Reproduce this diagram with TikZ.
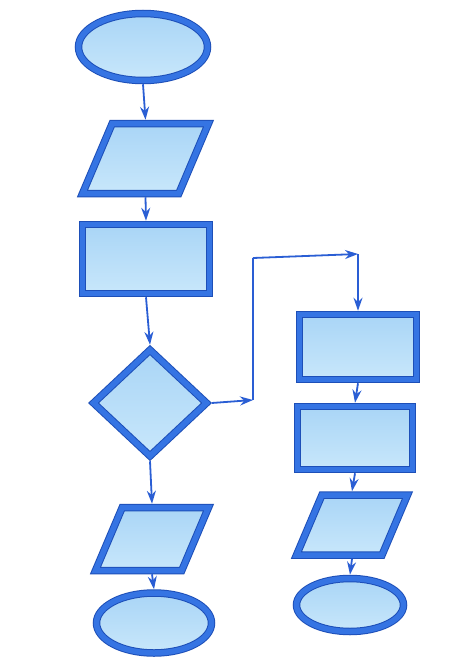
\documentclass[tikz,border=0pt]{standalone}
\usetikzlibrary{shapes.geometric,arrows.meta}
\definecolor{rim}{HTML}{3574E3}
\definecolor{rimdark}{HTML}{1D4FB8}
\definecolor{facetop}{HTML}{A9D5F6}
\definecolor{facebot}{HTML}{C8E7FB}
\definecolor{wire}{HTML}{2A5ED4}
\tikzset{
  box3d/.style={draw=rimdark, double=rim, double distance=5.5pt, line width=1pt,
    top color=facetop, bottom color=facebot, inner sep=0pt, outer sep=3.75pt},
  terminal/.style={box3d, ellipse},
  process/.style={box3d, rectangle},
  decision/.style={box3d, diamond},
  io/.style={box3d, trapezium, trapezium left angle=67, trapezium right angle=113,
    trapezium stretches body},
  wireline/.style={draw=wire, line width=1.8pt},
  arr/.style={wireline, -{Stealth[length=13pt,width=9pt]}},
}
\begin{document}
\begin{tikzpicture}[x=1pt,y=-1pt]
\useasboundingbox (0,0) rectangle (474,669);
\fill[white] (0,0) rectangle (474,669);
% left column
\node[terminal, minimum width=129pt, minimum height=67pt] (e1) at (143,47) {};
\node[io, minimum width=126pt] (p1) at (145.5,158.5) {\rule{0pt}{70pt}};
\node[process, minimum width=127pt, minimum height=69pt] (r1) at (146,259) {};
\node[decision, minimum width=116pt, minimum height=109pt] (d1) at (150,403) {};
\node[io, minimum width=113pt] (p3) at (152,539) {\rule{0pt}{63pt}};
\node[terminal, minimum width=115pt, minimum height=60pt] (e3) at (154,623) {};
% right column
\node[process, minimum width=117pt, minimum height=65pt] (r2) at (358,347) {};
\node[process, minimum width=115pt, minimum height=63pt] (r3) at (355,438) {};
\node[io, minimum width=111pt] (p2) at (352,525) {\rule{0pt}{60pt}};
\node[terminal, minimum width=107pt, minimum height=53pt] (e2) at (350,605) {};
% routing points
\coordinate (c1) at (253,400);
\coordinate (c2) at (253,258);
\coordinate (c3) at (r2.north |- 0,254);
% connectors
\draw[arr] (e1.south) -- (p1.north);
\draw[arr] (p1.south) -- (r1.north);
\draw[arr] (r1.south) -- (d1.north);
\draw[arr] (d1.south) -- (p3.north);
\draw[arr] (p3.south) -- (e3.north);
\draw[arr] (d1.east) -- (c1);
\draw[wireline] (c1) -- (c2);
\draw[arr] (c2) -- (c3);
\draw[arr] (c3) -- (r2.north);
\draw[arr] (r2.south) -- (r3.north);
\draw[arr] (r3.south) -- (p2.north);
\draw[arr] (p2.south) -- (e2.north);
\end{tikzpicture}
\end{document}
